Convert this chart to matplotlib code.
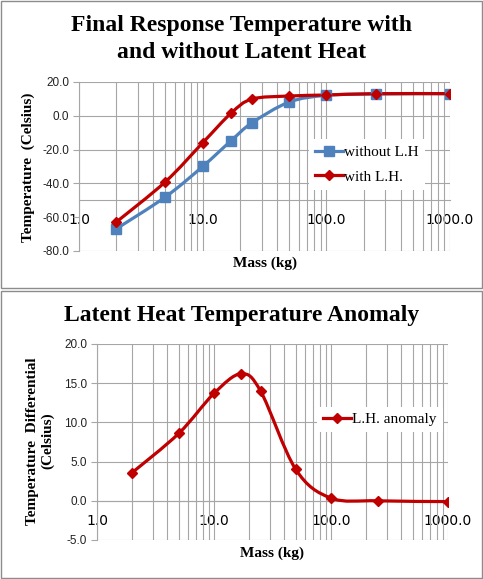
import numpy as np
import matplotlib
matplotlib.use('Agg')
from matplotlib import pyplot as plt
from matplotlib.path import Path
from matplotlib.patches import PathPatch, Rectangle
from matplotlib.lines import Line2D

mass = [2, 5, 10, 17, 25, 50, 100, 250, 1000]
temp_without_lh = [-66.9, -48.0, -30.0, -14.7, -4.2, 8.1, 12.1, 12.9, 13.1]
temp_with_lh = [-62.9, -39.0, -16.0, 1.6, 9.9, 11.7, 12.3, 13.1, 13.1]
lh_anomaly = [3.6, 8.6, 13.7, 16.2, 14.0, 4.0, 0.35, 0.0, -0.1]
x_ticks = [1, 10, 100, 1000]
x_ticklabels = ['1.0', '10.0', '100.0', '1000.0']

BLUE = '#4F81BD'
RED = '#C00000'
GRID = '#A6A6A6'
SERIF = 'Liberation Serif'
SANS = 'Liberation Sans'


def smooth_path(xs, ys):
    # excel-like smoothed line: catmull-rom bezier in (log x, y)
    u = np.log10(np.asarray(xs, float))
    v = np.asarray(ys, float)
    P = np.column_stack([u, v])
    P = np.vstack([P[0], P, P[-1]])
    verts = [P[1]]
    codes = [Path.MOVETO]
    for i in range(1, len(P) - 2):
        c1 = P[i] + (P[i + 1] - P[i - 1]) / 6.0
        c2 = P[i + 1] - (P[i + 2] - P[i]) / 6.0
        verts += [c1, c2, P[i + 1]]
        codes += [Path.CURVE4] * 3
    verts = np.array(verts)
    verts[:, 0] = 10 ** verts[:, 0]
    return Path(verts, codes)


def draw_series(ax, xs, ys, color, marker, ms, label):
    ax.add_patch(PathPatch(smooth_path(xs, ys), fill=False, edgecolor=color,
                           lw=2.3, transform=ax.transData, zorder=3,
                           capstyle='round', joinstyle='round'))
    ax.plot(xs, ys, ls='none', marker=marker, ms=ms, color=color, zorder=4)
    return Line2D([], [], color=color, lw=2.3, marker=marker, ms=ms, label=label)


def style_axis(ax, ylo, yhi, ystep, xcross, pad):
    ax.set_xscale('log')
    ax.set_xlim(1, 1000)
    ax.set_ylim(ylo, yhi)
    ax.set_yticks(np.arange(ylo, yhi + ystep / 2, ystep))
    ax.set_yticklabels(['%.1f' % t for t in np.arange(ylo, yhi + ystep / 2, ystep)],
                       fontfamily=SANS, fontsize=8.5, color='#222222')
    ax.set_xticks(x_ticks)
    ax.set_xticklabels(x_ticklabels, fontfamily=SANS, fontsize=8.5, color='#222222')
    ax.xaxis.set_minor_locator(matplotlib.ticker.LogLocator(subs=np.arange(2, 10)))
    ax.xaxis.set_minor_formatter(matplotlib.ticker.NullFormatter())
    ax.tick_params(axis='x', which='both', length=0, pad=pad)
    ax.tick_params(axis='y', length=4, color=GRID, width=0.8, pad=3)
    ax.grid(True, which='both', axis='x', color=GRID, lw=0.8)
    ax.grid(True, which='major', axis='y', color=GRID, lw=0.8)
    for s in ['top', 'right']:
        ax.spines[s].set_visible(False)
    ax.spines['left'].set_color(GRID)
    ax.spines['left'].set_linewidth(0.8)
    ax.spines['bottom'].set_position(('data', xcross))
    ax.spines['bottom'].set_color(GRID)
    ax.spines['bottom'].set_linewidth(0.8)
    ax.set_axisbelow(True)


fig = plt.figure(figsize=(4.83, 5.79), dpi=100)

# panel borders
for y0, h in [(1 - 288 / 579, 287 / 579), (1 / 579, 287 / 579)]:
    fig.patches.append(Rectangle((1 / 483, y0), 481 / 483, h, transform=fig.transFigure,
                                 fill=False, edgecolor='#8C8C8C', lw=1.0))

# top chart
ax1 = fig.add_axes([79 / 483, 1 - 251 / 579, 371 / 483, 169 / 579])
style_axis(ax1, -80, 20, 20, -50, 9)
ax1.yaxis.get_gridlines()[1].set_visible(False)  # no line at -60
h1 = draw_series(ax1, mass, temp_without_lh, BLUE, 's', 7, 'without L.H')
h2 = draw_series(ax1, mass, temp_with_lh, RED, 'D', 5.5, 'with L.H.')
leg = ax1.legend(handles=[h1, h2], loc='upper left', bbox_to_anchor=(0.60, 0.705),
                 frameon=True, fancybox=False, edgecolor='none', framealpha=1,
                 prop={'family': SERIF, 'size': 11}, handlelength=1.8,
                 handletextpad=0.1, labelspacing=0.7, borderpad=0.4)
fig.text(0.501, 1 - 39 / 579, 'Final Response Temperature with\nand without Latent Heat',
         ha='center', va='center', fontfamily=SERIF, fontweight='bold', fontsize=17,
         linespacing=1.4)
fig.text(265 / 483, 1 - 263 / 579, 'Mass (kg)', ha='center', va='center',
         fontfamily=SERIF, fontweight='bold', fontsize=11)
fig.text(28 / 483, 1 - 167 / 579, 'Temperature  (Celsius)', ha='center', va='center',
         rotation=90, fontfamily=SERIF, fontweight='bold', fontsize=11)

# bottom chart
ax2 = fig.add_axes([97 / 483, 1 - 540 / 579, 351 / 483, 196 / 579])
style_axis(ax2, -5, 20, 5, 0, 9.5)
h3 = draw_series(ax2, mass, lh_anomaly, RED, 'D', 5.5, 'L.H. anomaly')
ax2.legend(handles=[h3], loc='upper left', bbox_to_anchor=(0.605, 0.72),
           frameon=True, fancybox=False, edgecolor='none', framealpha=1,
           prop={'family': SERIF, 'size': 11}, handlelength=1.8,
           handletextpad=0.1, borderpad=0.4)
fig.text(0.501, 1 - 315 / 579, 'Latent Heat Temperature Anomaly',
         ha='center', va='center', fontfamily=SERIF, fontweight='bold', fontsize=17)
fig.text(272 / 483, 1 - 553 / 579, 'Mass (kg)', ha='center', va='center',
         fontfamily=SERIF, fontweight='bold', fontsize=11)
fig.text(40 / 483, 1 - 441 / 579, 'Temperature  Differential\n(Celsius)', ha='center',
         va='center', rotation=90, fontfamily=SERIF, fontweight='bold', fontsize=11,
         linespacing=1.15)

plt.savefig('out.png', dpi=100)
